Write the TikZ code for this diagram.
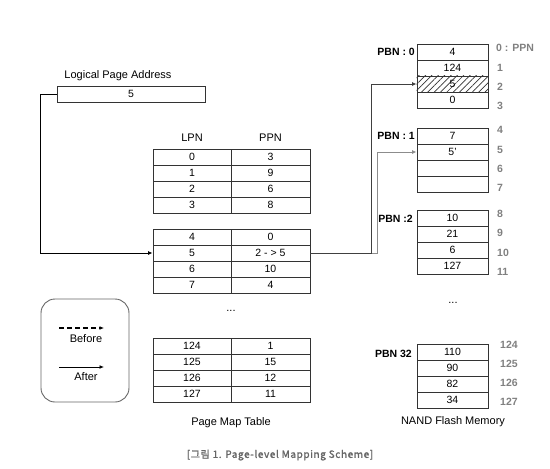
\documentclass[tikz,border=0pt]{standalone}
\usepackage{fontspec}
\setmainfont{Liberation Sans}
\newfontfamily\cjk{Noto Sans CJK KR}[LetterSpace=6,AutoFakeBold=1.5]
\usetikzlibrary{arrows.meta,patterns.meta,positioning}
\begin{document}
\begin{tikzpicture}[x=1pt,y=-1pt,
  cell/.style={draw=black!80,line width=0.9pt,inner sep=0pt,minimum height=16pt,font=\fontsize{10.5}{12}\selectfont},
  lcell/.style={cell,minimum width=78pt},
  pcell/.style={cell,minimum width=79pt},
  ncell/.style={cell,minimum width=71pt},
  lab/.style={font=\fontsize{11}{13}\selectfont,inner sep=0pt},
  pbn/.style={font=\bfseries\fontsize{10.5}{12}\selectfont,inner sep=0pt,anchor=east},
  ppn/.style={font=\bfseries\fontsize{10.5}{12}\selectfont,text=black!50,inner sep=0pt,anchor=west},
  conn/.style={line width=0.9pt,-{Latex[length=4.5pt,width=4pt]}}]
\useasboundingbox (0,0) rectangle (550,469);
% Logical page address
\node[lab] (lpat) at (118,76) {Logical Page Address};
\node[cell,minimum width=148pt] (lpa) at (131,94) {5};
% table headers
\node[lab] (hl) at (192,138) {LPN};
\node[lab] (hp) at (270.5,138) {PPN};
% table 1
\foreach \i/\a/\b [count=\k] in {0/0/3,1/1/9,2/2/6,3/3/8}{
  \node[lcell] (ta\k) at (192,{157+16*\i}) {\a};
  \node[pcell] (tb\k) at (270.5,{157+16*\i}) {\b};
}
% table 2
\foreach \i/\a/\b [count=\k] in {0/4/0,1/5/{2 - > 5},2/6/10,3/7/4}{
  \node[lcell] (ua\k) at (192,{237+16*\i}) {\a};
  \node[pcell] (ub\k) at (270.5,{237+16*\i}) {\b};
}
\node[lab] (dots1) at (231,311) {...};
% table 3
\foreach \i/\a/\b [count=\k] in {0/124/1,1/125/15,2/126/12,3/127/11}{
  \node[lcell] (va\k) at (192,{346+16*\i}) {\a};
  \node[pcell] (vb\k) at (270.5,{346+16*\i}) {\b};
}
\node[lab] (pmt) at (231,423) {Page Map Table};
% legend
\node[draw=black!60,line width=0.9pt,rounded corners=14pt,minimum width=88pt,minimum height=103pt,inner sep=0pt] (leg) at (85,350.5) {};
\coordinate (b1) at (59,328);
\coordinate (b2) at (104,328);
\draw[conn,dash pattern=on 5pt off 3pt,line width=1.1pt] (b1) -- (b2);
\node[lab] (bef) at (86,339) {Before};
\coordinate (a1) at (59,367);
\coordinate (a2) at (104,367);
\draw[conn] (a1) -- (a2);
\node[lab] (aft) at (86,377) {After};
% NAND blocks
\foreach \i/\t [count=\k from 0] in {0/4,1/124,2/,3/0}{
  \node[ncell] (n\k) at (452.5,{52+16*\i}) {\t};
}
\path[pattern={Lines[angle=45,distance=4.5pt,line width=0.7pt]},pattern color=black!80] (n2.south west) rectangle (n2.north east);
\node[ncell] at (n2) {5};
\foreach \i/\t [count=\k from 4] in {0/7,1/5',2/,3/}{
  \node[ncell] (n\k) at (452.5,{136+16*\i}) {\t};
}
\foreach \i/\t [count=\k from 8] in {0/10,1/21,2/6,3/127}{
  \node[ncell] (n\k) at (452.5,{218+16*\i}) {\t};
}
\foreach \i/\t [count=\k from 124] in {0/110,1/90,2/82,3/34}{
  \node[ncell] (n\k) at (452.5,{352+16*\i}) {\t};
}
\node[lab] (dots2) at (453,303) {...};
\node[lab] (nand) at (453,422) {NAND Flash Memory};
% PBN labels
\node[pbn] (p0) at (415,52) {PBN : 0};
\node[pbn] (p1) at (415,136) {PBN : 1};
\node[pbn] (p2) at (413,219) {PBN :2};
\node[pbn] (p32) at (412,354) {PBN 32};
% PPN labels
\node[ppn] (q0) at (496,48) {0 : PPN};
\node[ppn] (q1) at (497,68) {1};
\node[ppn] (q2) at (497,87) {2};
\node[ppn] (q3) at (497,106) {3};
\node[ppn] (q4) at (497,130) {4};
\node[ppn] (q5) at (497,150) {5};
\node[ppn] (q6) at (497,169) {6};
\node[ppn] (q7) at (497,188) {7};
\node[ppn] (q8) at (497,214) {8};
\node[ppn] (q9) at (497,233) {9};
\node[ppn] (q10) at (497,253) {10};
\node[ppn] (q11) at (497,272) {11};
\node[ppn] (q124) at (500,345) {124};
\node[ppn] (q125) at (500,364) {125};
\node[ppn] (q126) at (500,383) {126};
\node[ppn] (q127) at (500,402) {127};
% connectors
\draw[conn] (lpa.west) -- ++(-16,0) |- (ua2.west);
\draw[conn,draw=black!45] (ub2.east) -- ++(67,0) |- (n5.west);
\draw[conn,draw=black!75] (ub2.east) -- ++(61,0) |- (n2.west);
% caption
\node[font=\cjk\bfseries\fontsize{10}{12}\selectfont,text=black!60,inner sep=0pt] (cap) at (280,455) {[그림 1. Page-level Mapping Scheme]};
\end{tikzpicture}
\end{document}
